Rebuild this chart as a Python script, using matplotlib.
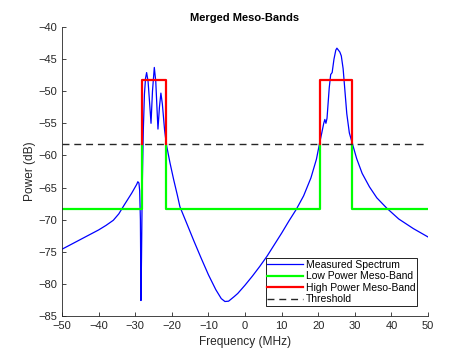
import numpy as np
import matplotlib
matplotlib.use("Agg")
import matplotlib.pyplot as plt

# measured spectrum
freq_mhz = [-50, -48, -46, -44, -42, -40, -38, -36, -34.5, -33, -32, -31, -30.2,
            -29.6, -29.3, -29.0, -28.8, -28.6, -28.45, -28.3, -28.1, -27.8, -27.5,
            -27.2, -26.9, -26.5, -26.0, -25.7, -25.3, -24.8, -24.4, -24.0, -23.8,
            -23.4, -23.0, -22.6, -22.0, -21.5, -20.5, -19.5, -18.5, -17.8, -16, -14,
            -12, -10, -8, -6.5, -5.5, -4.5, -3, -2, 0, 2, 4, 6, 8, 10, 12, 14, 16,
            18, 19.5, 20.3, 21.0, 21.5, 21.8, 22.1, 22.4, 23.0, 23.4, 23.8, 24.3,
            24.8, 25.1, 25.5, 25.9, 26.3, 26.8, 27.3, 27.8, 28.5, 29.4, 30.5, 32,
            34, 36, 38.7, 42, 46, 50]
power_db = [-74.6, -74.0, -73.4, -72.8, -72.2, -71.6, -70.9, -70.1, -69.1, -67.7, -66.8, -65.9, -65.1,
            -64.5, -64.1, -64.3, -65.5, -70.0, -82.6, -76.0, -65.0, -56.0, -50.5,
            -48.0, -47.1, -48.5, -52.5, -55.0, -50.0, -46.3, -48.5, -53.5, -55.9,
            -52.5, -50.3, -52.0, -56.0, -58.3, -61.2, -63.8, -66.2, -68.0, -70.5, -73.3,
            -76.0, -78.6, -80.9, -82.3, -82.75, -82.7, -82.0, -81.5, -80.2, -78.8, -77.3, -75.7, -73.9, -72.1, -70.2, -68.4, -66.3,
            -63.5, -60.6, -58.3, -56.4, -55.0, -54.4, -55.0, -54.2, -49.5, -47.4, -47.1, -45.0,
            -43.6, -43.3, -43.6, -43.9, -44.5, -46.5, -50.0, -53.5, -56.5, -58.3, -60.5, -62.8,
            -64.9, -66.6, -68.2, -69.9, -71.4, -72.7]

# meso-band edges (MHz) and levels (dB)
band_lo = [-28.05, 20.4]
band_hi = [-21.5, 29.35]
low_level = -68.35
high_level = -48.3
threshold = -58.3
x_range = [-50, 50]

# build the step lines from the band edges
low_x, low_y = [x_range[0]], [low_level]
high_x, high_y = [], []
for a, b in zip(band_lo, band_hi):
    low_x += [a, a, np.nan, b, b]
    low_y += [low_level, threshold, np.nan, threshold, low_level]
    high_x += [a, a, b, b, np.nan]
    high_y += [threshold, high_level, high_level, threshold, np.nan]
low_x.append(x_range[1])
low_y.append(low_level)

plt.rcParams['font.family'] = ['Liberation Sans', 'DejaVu Sans']
plt.rcParams['font.size'] = 8

fig = plt.figure(figsize=(4.74, 3.55), dpi=100)
ax = fig.add_axes([0.131, 0.110, 0.772, 0.814])

ax.plot(freq_mhz, power_db, color='#0000ff', lw=0.9, label='Measured Spectrum')
ax.plot(low_x, low_y, color='#00ff00', lw=1.6, label='Low Power Meso-Band')
ax.plot(high_x, high_y, color='#ff0000', lw=1.6, label='High Power Meso-Band')
ax.plot(x_range, [threshold, threshold], color='#262626', lw=1.0,
        dashes=(5, 3.5), label='Threshold')

ax.set_xlim(x_range)
ax.set_ylim(-85, -40)
ax.set_xticks(np.arange(-50, 51, 10))
ax.set_yticks(np.arange(-85, -39, 5))

gray = '#262626'
for side in ['top', 'right']:
    ax.spines[side].set_visible(False)
for side in ['left', 'bottom']:
    ax.spines[side].set_color(gray)
    ax.spines[side].set_linewidth(0.6)
ax.tick_params(direction='in', length=3, width=0.6, colors=gray, labelsize=8)

ax.set_title('Merged Meso-Bands', fontsize=8, fontweight='bold', pad=4.5)
ax.set_xlabel('Frequency (MHz)', fontsize=8.6, color=gray, labelpad=3.5)
ax.set_ylabel('Power (dB)', fontsize=8.6, color=gray, labelpad=2)

leg = ax.legend(loc='lower right', bbox_to_anchor=(0.97, 0.035), borderaxespad=0,
                fancybox=False, edgecolor='black', framealpha=1, fontsize=7.5,
                handlelength=3.4, labelspacing=0.15, handletextpad=0.3,
                borderpad=0.15)
leg.get_frame().set_linewidth(0.6)

fig.savefig('out.png', dpi=100)
